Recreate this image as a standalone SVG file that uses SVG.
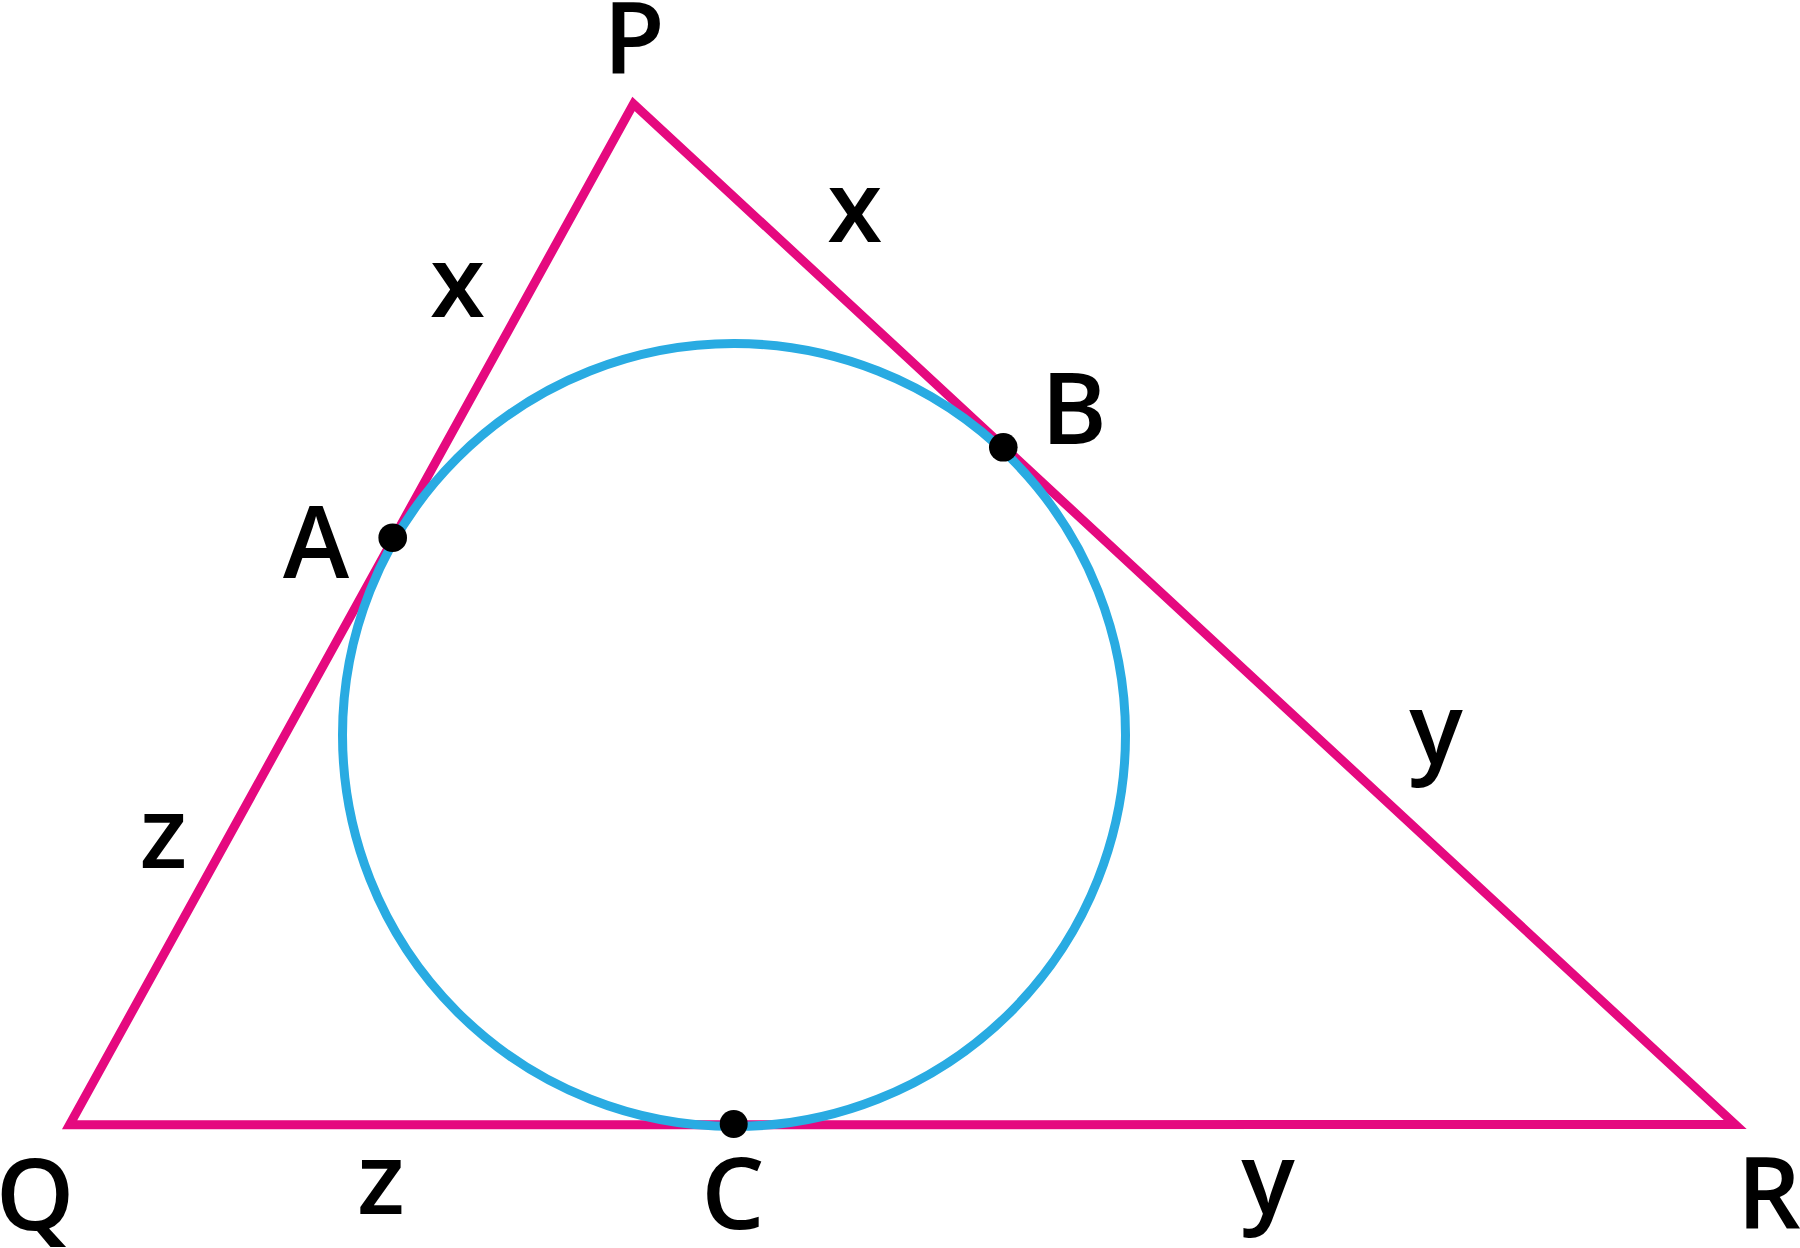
<svg xmlns="http://www.w3.org/2000/svg" width="1800" height="1248" viewBox="0 0 1800 1248">
  <style>
    .tri { fill: none; stroke: #E5097F; stroke-width: 9; stroke-linejoin: miter; }
    .circ { fill: none; stroke: #29ABE2; stroke-width: 9; }
    .dot { fill: #000000; }
    .lbl { font-family: "Open Sans", "Noto Sans", "Liberation Sans", sans-serif; font-size: 100px; font-weight: 600; fill: #000000; text-anchor: middle; }
  </style>
  <rect x="0" y="0" width="1800" height="1248" fill="#ffffff"/>
  <g id="connectors">
    <polygon id="triangle" class="tri" points="633.5,103.9 69.6,1124.8 1735.2,1124.5"/>
    <circle id="incircle" class="circ" cx="734" cy="735" r="391.5"/>
  </g>
  <g id="node-P"><text class="lbl" x="634" y="74">P</text></g>
  <g id="node-Q"><text class="lbl" x="35" y="1230">Q</text></g>
  <g id="node-R"><text class="lbl" x="1769" y="1229">R</text></g>
  <g id="node-A">
    <circle class="dot" cx="392.7" cy="537.7" r="14.3"/>
    <text class="lbl" x="316" y="578">A</text>
  </g>
  <g id="node-B">
    <circle class="dot" cx="1003.3" cy="447.3" r="14.3"/>
    <text class="lbl" x="1074" y="444">B</text>
  </g>
  <g id="node-C">
    <circle class="dot" cx="733.7" cy="1124" r="14"/>
    <text class="lbl" x="733" y="1229">C</text>
  </g>
  <g id="labels">
    <text class="lbl" x="457.5" y="317">x</text>
    <text class="lbl" x="854.7" y="242">x</text>
    <text class="lbl" x="1436" y="764">y</text>
    <text class="lbl" x="1268" y="1214">y</text>
    <text class="lbl" x="163.5" y="868">z</text>
    <text class="lbl" x="381" y="1214">z</text>
  </g>
</svg>
